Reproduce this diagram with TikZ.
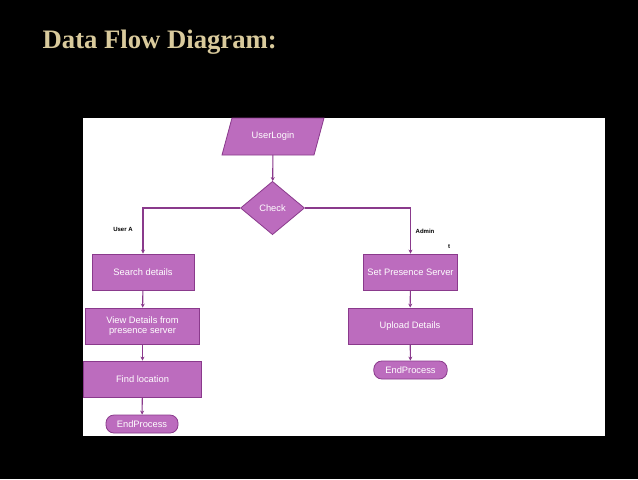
\documentclass[tikz,border=0pt]{standalone}
\usepackage{fontspec}
\setmainfont{Liberation Sans}
\newfontfamily\titlefont{Liberation Serif}
\usetikzlibrary{shapes.geometric,arrows.meta}
\definecolor{pfill}{HTML}{BC6CBE}
\definecolor{pline}{HTML}{8A3A8C}
\definecolor{gold}{HTML}{D9CA9C}
\begin{document}
\begin{tikzpicture}[x=0.75pt,y=-0.75pt,
  box/.style={draw=pline,fill=pfill,line width=0.6pt,text=white,font=\fontsize{7}{8}\selectfont,align=center,inner sep=0pt},
  flow/.style={draw=pline,line width=0.8pt,-{Stealth[length=3pt,width=3pt]}},
  lbl/.style={font=\bfseries\fontsize{4.5}{5}\selectfont,text=black}]
\fill[black] (0,0) rectangle (638,479);
\useasboundingbox (0,0) rectangle (638,479);
\fill[white] (83,118) rectangle (605,436);
\node[anchor=west,text=gold,font=\titlefont\bfseries\fontsize{20}{22}\selectfont] (title) at (38,42) {Data Flow Diagram:};
% parallelogram
\path[box] (232,118) -- (324,118) -- (314,155) -- (222,155) -- cycle;
\node[box,draw=none,fill=none,minimum width=80pt,minimum height=27pt] (login) at (273,136.5) {UserLogin};
\node[box,diamond,minimum width=48pt,minimum height=40pt] (check) at (272.5,208) {Check};
\node[box,minimum width=76.5pt,minimum height=27pt] (search) at (143,272) {Search details};
\node[box,minimum width=85pt,minimum height=27pt] (view) at (142.5,326) {View Details from\\presence server};
\node[box,minimum width=89pt,minimum height=27pt] (find) at (142.5,379) {Find location};
\node[box,rounded rectangle/.try,rounded corners=6pt,minimum width=54pt,minimum height=13.5pt] (end1) at (142,424) {EndProcess};
\node[box,minimum width=71pt,minimum height=27pt] (set) at (410.5,272) {Set Presence Server};
\node[box,minimum width=93pt,minimum height=27pt] (upload) at (410,326) {Upload Details};
\node[box,rounded corners=6pt,minimum width=55pt,minimum height=13.5pt] (end2) at (410.5,370) {EndProcess};
\draw[flow] (login) -- (check);
\draw[flow] (check.west) -| (search.north);
\draw[flow] (check.east) -| (set.north);
\draw[flow] (search) -- (view);
\draw[flow] (view) -- (find);
\draw[flow] (find) -- (end1);
\draw[flow] (set) -- (upload);
\draw[flow] (upload) -- (end2);
\node[lbl] (ua) at (123,229) {User A};
\node[lbl] (adm) at (425,231) {Admin};
\node[lbl] (t) at (449,247) {t};
\end{tikzpicture}
\end{document}
